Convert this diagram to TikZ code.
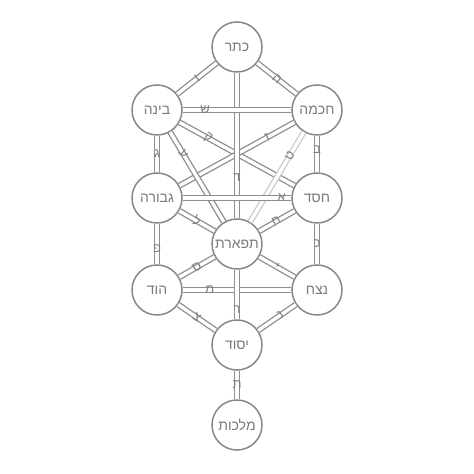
\documentclass[tikz,border=0pt]{standalone}
\usepackage{fontspec}
\newfontfamily\heb[Script=Hebrew]{Liberation Sans}
\definecolor{circgray}{HTML}{878787}
\definecolor{linegray}{HTML}{8E8E8E}
\definecolor{lightline}{HTML}{C8C8C8}
\definecolor{textgray}{HTML}{7A7A7A}
\definecolor{labgray}{HTML}{7E7E7E}
\begin{document}
\begin{tikzpicture}[x=1pt,y=1pt,
  sef/.style={circle, draw=circgray, line width=1.5pt, fill=white, minimum size=50pt, inner sep=0pt, font=\heb\fontsize{14}{14}\selectfont, text=textgray},
  pathline/.style={draw=linegray, line width=1.3pt, double=white, double distance=3.4pt},
  lightpath/.style={draw=lightline, line width=1.2pt, double=white, double distance=3.4pt},
  lab/.style={font=\heb\fontsize{13}{13}\selectfont, text=labgray, inner sep=0pt},
]
\useasboundingbox (0,0) rectangle (474,474);
\fill[white] (0,0) rectangle (474,474);
% sefirot (glyphs set left to right, as printed in the reference)
\node[sef] (keter)    at (237,427) {כתר};
\node[sef] (chokhmah) at (317,364) {חכמה};
\node[sef] (binah)    at (157,364) {בינה};
\node[sef] (chesed)   at (317,276) {חסד};
\node[sef] (gevurah)  at (157,276) {גבורה};
\node[sef] (tiferet)  at (237,230) {תפארת};
\node[sef] (netzach)  at (317,184) {נצח};
\node[sef] (hod)      at (157,184) {הוד};
\node[sef] (yesod)    at (237,129) {יסוד};
\node[sef] (malkhut)  at (237,49)  {מלכות};
% paths
\draw[pathline] (binah) -- (chesed);
\draw[pathline] (chokhmah) -- (gevurah);
\draw[lightpath] (chokhmah) -- (tiferet);
\draw[pathline] (binah) -- (tiferet);
\draw[pathline] (keter) -- (tiferet);
\draw[pathline] (keter) -- (chokhmah);
\draw[pathline] (keter) -- (binah);
\draw[pathline] (binah) -- (chokhmah);
\draw[pathline] (chokhmah) -- (chesed);
\draw[pathline] (binah) -- (gevurah);
\draw[pathline] (gevurah) -- (chesed);
\draw[pathline] (gevurah) -- (tiferet);
\draw[pathline] (chesed) -- (tiferet);
\draw[pathline] (gevurah) -- (hod);
\draw[pathline] (chesed) -- (netzach);
\draw[pathline] (tiferet) -- (hod);
\draw[pathline] (tiferet) -- (netzach);
\draw[pathline] (hod) -- (netzach);
\draw[pathline] (tiferet) -- (yesod);
\draw[pathline] (hod) -- (yesod);
\draw[pathline] (netzach) -- (yesod);
\draw[pathline] (yesod) -- (malkhut);
% letters
\path (keter.center) -- (chokhmah.center) node[lab, sloped, pos=0.5] (l1) {ה};
\path (keter.center) -- (binah.center) node[lab, sloped, pos=0.5] (l2) {ו};
\path (keter.center) -- (tiferet.center) node[lab, pos=0.665] (l3) {ד};
\path (binah.center) -- (chokhmah.center) node[lab, pos=0.3] (l4) {ש};
\path (chokhmah.center) -- (chesed.center) node[lab, pos=0.45] (l5) {ב};
\path (binah.center) -- (gevurah.center) node[lab, pos=0.49] (l6) {ג};
\path (binah.center) -- (chesed.center) node[lab, sloped, pos=0.32] (l7) {ק};
\path (chokhmah.center) -- (gevurah.center) node[lab, sloped, pos=0.31] (l8) {ז};
\path (binah.center) -- (tiferet.center) node[lab, sloped, pos=0.33] (l9) {ע};
\path (chokhmah.center) -- (tiferet.center) node[lab, sloped, pos=0.34] (l10) {ט};
\path (gevurah.center) -- (chesed.center) node[lab, pos=0.78] (l11) {א};
\path (gevurah.center) -- (tiferet.center) node[lab, sloped, pos=0.5] (l12) {ל};
\path (chesed.center) -- (tiferet.center) node[lab, sloped, pos=0.51] (l13) {ח};
\path (gevurah.center) -- (hod.center) node[lab, pos=0.55] (l14) {פ};
\path (chesed.center) -- (netzach.center) node[lab, pos=0.5] (l15) {כ};
\path (tiferet.center) -- (hod.center) node[lab, sloped, pos=0.5] (l16) {ס};
\path (tiferet.center) -- (netzach.center) node[lab, sloped, pos=0.5] (l17) {י};
\path (hod.center) -- (netzach.center) node[lab, pos=0.33] (l18) {מ};
\path (tiferet.center) -- (yesod.center) node[lab, pos=0.65] (l19) {ר};
\path (hod.center) -- (yesod.center) node[lab, sloped, pos=0.5] (l20) {צ};
\path (netzach.center) -- (yesod.center) node[lab, sloped, pos=0.46] (l21) {נ};
\path (yesod.center) -- (malkhut.center) node[lab, pos=0.5] (l22) {ת};
\end{tikzpicture}
\end{document}
